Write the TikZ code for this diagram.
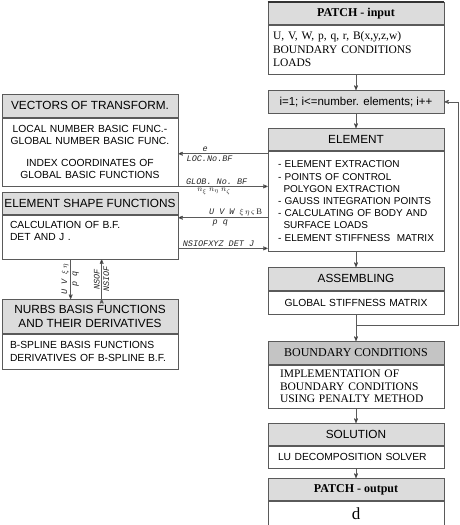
\documentclass[tikz,border=0pt]{standalone}
\usepackage{fontspec}
\setmainfont{Liberation Serif}
\setsansfont{Liberation Sans}
\setmonofont{Liberation Mono}
\usepackage{tikz}
\usetikzlibrary{arrows,positioning,calc}

\definecolor{boxline}{HTML}{5A5A5A}
\definecolor{hdrgray}{HTML}{DCDCDC}
\definecolor{hdrdark}{HTML}{C4C4C4}

\begin{document}
\begin{tikzpicture}
	[x=1pt, y=1pt, >=stealth', line width=0.7pt,
		head/.style={draw=boxline, fill=hdrgray, minimum width=176pt, minimum height=22pt, inner sep=0pt, align=center, font=\sffamily\fontsize{11.8}{14}\selectfont},
		body/.style={draw=boxline, fill=white, text width=166pt, inner xsep=5pt, inner ysep=0pt, align=left, font=\sffamily\fontsize{10.3}{12.4}\selectfont},
		lbl/.style={font=\ttfamily\itshape\fontsize{8.5}{9}\selectfont, text=black!85, inner sep=1.5pt},
		flow/.style={->, draw=boxline}]

	\useasboundingbox (0,0) rectangle (459,-525);

	% main loop (right column)
	\node[head, anchor=north, font=\rmfamily\bfseries\fontsize{12}{14}\selectfont] (pinH) at (356,-2) {PATCH - input};
	\node[body, below=0pt of pinH, minimum height=49pt, font=\rmfamily\fontsize{11.5}{13.5}\selectfont] (pinB) {U, V, W, p, q, r, B(x,y,z,w)\\BOUNDARY CONDITIONS\\LOADS};
	\draw[line width=2pt, black!80] (pinH.north west) -- (pinH.north east);
	\node[head, anchor=north, minimum height=23pt, font=\sffamily\fontsize{11.5}{13}\selectfont] (loop) at (356,-90) {i=1; i<=number. elements; i++};
	\node[head, anchor=north] (elH) at (356,-128) {ELEMENT};
	\node[body, below=0pt of elH, minimum height=100pt, text width=164pt, inner xsep=6pt, font=\sffamily\fontsize{10}{12.2}\selectfont] (elB) {\hspace*{4pt}- ELEMENT EXTRACTION\\\hspace*{4pt}- POINTS OF CONTROL\\\hspace*{4pt}\hspace*{0.55em}POLYGON EXTRACTION\\\hspace*{4pt}- GAUSS INTEGRATION POINTS\\\hspace*{4pt}- CALCULATING OF BODY AND\\\hspace*{4pt}\hspace*{0.55em}SURFACE LOADS\\\hspace*{4pt}- ELEMENT STIFFNESS\ \ MATRIX};
	\node[head, anchor=north, minimum height=23pt] (asmH) at (356,-267) {ASSEMBLING};
	\node[body, below=0pt of asmH, minimum height=23pt, align=center] (asmB) {GLOBAL STIFFNESS MATRIX};
	\node[head, anchor=north, minimum height=23pt, fill=hdrdark, font=\rmfamily\fontsize{12}{14}\selectfont] (bcH) at (356,-341) {BOUNDARY CONDITIONS};
	\node[body, below=0pt of bcH, minimum height=43pt, text width=152pt, inner xsep=12pt, font=\rmfamily\fontsize{11.5}{12.5}\selectfont] (bcB) {IMPLEMENTATION OF\\BOUNDARY CONDITIONS\\USING PENALTY METHOD};
	\node[head, anchor=north] (solH) at (356,-423) {SOLUTION};
	\node[body, below=0pt of solH, minimum height=22pt, inner xsep=10pt, text width=156pt] (solB) {LU DECOMPOSITION SOLVER};
	\node[head, anchor=north, font=\rmfamily\bfseries\fontsize{12}{14}\selectfont] (poutH) at (356,-478) {PATCH - output};
	\node[body, below=0pt of poutH, minimum height=26pt, align=center, font=\rmfamily\fontsize{17}{18}\selectfont] (poutB) {d};

	% sub-procedures (left column)
	\node[head, anchor=north, minimum height=23pt] (vecH) at (90,-94) {VECTORS OF TRANSFORM.};
	\node[body, below=0pt of vecH, minimum height=68pt, align=center] (vecB) {LOCAL NUMBER BASIC FUNC.-\\GLOBAL NUMBER BASIC FUNC.\\[9pt]INDEX COORDINATES OF\\GLOBAL BASIC FUNCTIONS};
	\node[head, anchor=north] (esfH) at (90,-192) {ELEMENT SHAPE FUNCTIONS};
	\node[body, below=0pt of esfH, minimum height=44pt, inner xsep=8pt, text width=160pt] (esfB) {CALCULATION OF B.F.\\DET AND J .\\\mbox{}};
	\node[head, anchor=north, minimum height=34pt] (nurH) at (90,-299) {NURBS BASIS FUNCTIONS\\AND THEIR DERIVATIVES};
	\node[body, below=0pt of nurH, minimum height=35pt, inner xsep=8pt, text width=160pt] (nurB) {B-SPLINE BASIS FUNCTIONS\\DERIVATIVES OF B-SPLINE B.F.};

	\coordinate (jn) at ($(asmB.south)!0.4!(bcH.north)$);
	\coordinate (rim) at (458,0);

	\path[flow]
	(pinB) edge (loop)
	(loop) edge (elH)
	(elB) edge (asmH)
	(asmB) edge (bcH)
	(bcB) edge (solH)
	(solB) edge (poutH)

	([yshift=-3pt]elB.north west) edge node[lbl, pos=0.7, above] {e} node[lbl, pos=0.65, below] {LOC.No.BF} ([yshift=-3pt]elB.north west -| vecB.east)
	(vecB.south east) edge node[lbl, pos=0.43, above] {GLOB. No. BF} node[lbl, pos=0.4, below] {$n_\xi\;n_\eta\;n_\zeta$} (vecB.south east -| elB.west)
	([yshift=-3pt]esfB.north east -| elB.west) edge node[lbl, pos=0.36, above] {U V W $\xi\,\eta\,\varsigma\,\mathrm{B}$} node[lbl, pos=0.53, below] {p q} ([yshift=-3pt]esfB.north east)
	([yshift=11pt]esfB.south east) edge node[lbl, pos=0.45, above] {NSIOFXYZ DET J} ([yshift=11pt]esfB.south east -| elB.west)

	([xshift=69pt]esfB.south west) edge node[lbl, midway, rotate=90, above] {U V $\xi\,\eta$} node[lbl, midway, rotate=90, below] {p q} ([xshift=69pt]esfB.south west |- nurH.north)
	([xshift=100pt]esfB.south west |- nurH.north) edge node[lbl, midway, rotate=90, above] {NSOF} node[lbl, midway, rotate=90, below] {NSIOF} ([xshift=100pt]esfB.south west)
	;

	\draw[flow] (jn) -- (jn -| rim) |- (loop.east);

\end{tikzpicture}
\end{document}
